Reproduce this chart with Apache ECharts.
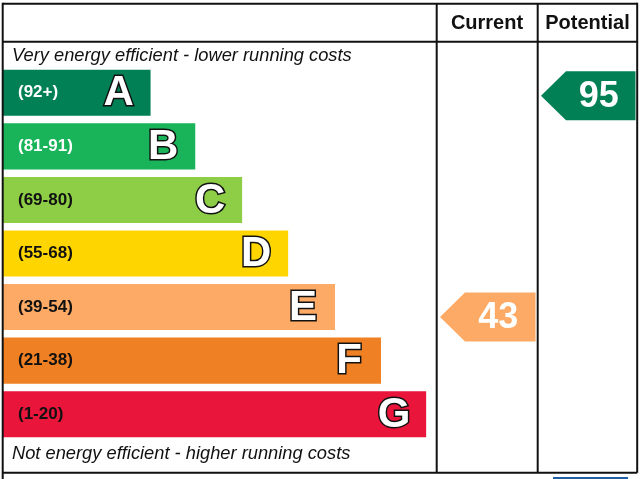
<!DOCTYPE html>
<html>
<head>
<meta charset="utf-8">
<script src="https://cdn.jsdelivr.net/npm/echarts@6/dist/echarts.min.js"></script>
<style>
  html, body { margin: 0; padding: 0; background: #fff; }
  #chart { width: 640px; height: 479px; }
</style>
</head>
<body>
<div id="chart"></div>
<script>
// rating bands, top (best) to bottom (worst)
const ratings = ['A', 'B', 'C', 'D', 'E', 'F', 'G'];
const rangeLabels = ['(92+)', '(81-91)', '(69-80)', '(55-68)', '(39-54)', '(21-38)', '(1-20)'];
const bandLow = [92, 81, 69, 55, 39, 21, 1];
const bandHigh = [100, 91, 80, 68, 54, 38, 20];
// bar length as percent of the rating column
const barLength = [34, 44.3, 55.1, 65.7, 76.5, 87.1, 97.5];

const currentScore = 43;
const potentialScore = 95;

const bandColors = ['#008054', '#19b459', '#8dce46', '#ffd500', '#fcaa65', '#ef8023', '#e9153b'];
const rangeTextColors = ['#fff', '#fff', '#111', '#111', '#111', '#111', '#111'];

const FONT = '"Liberation Sans", Arial, sans-serif';

//分数对应的等级行
let rowOf = score => {
  for (let i = 0; i < ratings.length; i++) {
    if (score >= bandLow[i]) return i;
  }
  return ratings.length - 1;
};

let chart = echarts.init(document.getElementById('chart'), null, { renderer: 'canvas' });

let catAxis = gridIndex => ({
  type: 'category',
  gridIndex: gridIndex,
  data: ratings,
  inverse: true,
  show: false
});
let valAxis = (gridIndex, max) => ({
  type: 'value',
  gridIndex: gridIndex,
  min: 0,
  max: max,
  show: false
});

let renderBand = (params, api) => {
  let idx = api.value(1);
  let start = api.coord([0, idx]);
  let end = api.coord([api.value(0), idx]);
  let h = api.size([0, 1])[1] * 0.86;
  return {
    type: 'group',
    children: [
      {
        type: 'rect',
        shape: { x: start[0], y: start[1] - h / 2, width: end[0] - start[0], height: h },
        style: { fill: bandColors[idx] }
      },
      {
        type: 'text',
        x: start[0] + 15,
        y: start[1],
        style: {
          text: rangeLabels[idx],
          fill: rangeTextColors[idx],
          font: 'bold 17px ' + FONT,
          verticalAlign: 'middle',
          align: 'left'
        }
      },
      {
        type: 'text',
        x: end[0] - 32,
        y: start[1] + 1,
        style: {
          text: ratings[idx],
          fill: '#fff',
          stroke: '#111',
          lineWidth: 3,
          strokeFirst: true,
          font: 'bold 42px ' + FONT,
          verticalAlign: 'middle',
          align: 'center'
        }
      }
    ]
  };
};

let renderArrow = (params, api) => {
  let score = api.value(0);
  let idx = api.value(1);
  let band = api.size([0, 1])[1];
  let frac = (bandHigh[idx] - score) / (bandHigh[idx] - bandLow[idx] + 1);
  let cy = api.coord([0, idx])[1] + (frac - 0.5) * band;
  let cs = params.coordSys;
  let tip = cs.x + 3;
  let right = cs.x + cs.width - 2.5;
  let hh = 24.5;
  let neck = tip + 25;
  return {
    type: 'group',
    children: [
      {
        type: 'polygon',
        shape: { points: [[tip, cy], [neck, cy - hh], [right, cy - hh], [right, cy + hh], [neck, cy + hh]] },
        style: { fill: bandColors[idx] }
      },
      {
        type: 'text',
        x: (neck + right) / 2 - 2,
        y: cy + 1,
        style: {
          text: String(score),
          fill: '#fff',
          font: 'bold 36px ' + FONT,
          verticalAlign: 'middle',
          align: 'center'
        }
      }
    ]
  };
};

let line = (x1, y1, x2, y2) => ({
  type: 'line',
  shape: { x1: x1, y1: y1, x2: x2, y2: y2 },
  style: { stroke: '#111', lineWidth: 2 },
  z: 100
});
let label = (text, x, y, font, align) => ({
  type: 'text',
  x: x,
  y: y,
  style: { text: text, font: font, fill: '#111', verticalAlign: 'middle', align: align || 'left' },
  z: 100
});

let option = {
  animation: false,
  backgroundColor: '#fff',
  grid: [
    { left: 3, top: 66, width: 434, height: 375 },
    { left: 437, top: 66, width: 101, height: 375 },
    { left: 538, top: 66, width: 100, height: 375 }
  ],
  xAxis: [valAxis(0, 100), valAxis(1, 1), valAxis(2, 1)],
  yAxis: [catAxis(0), catAxis(1), catAxis(2)],
  series: [
    {
      type: 'custom',
      xAxisIndex: 0,
      yAxisIndex: 0,
      renderItem: renderBand,
      data: barLength.map((v, i) => [v, i])
    },
    {
      type: 'custom',
      xAxisIndex: 1,
      yAxisIndex: 1,
      renderItem: renderArrow,
      data: [[currentScore, rowOf(currentScore)]]
    },
    {
      type: 'custom',
      xAxisIndex: 2,
      yAxisIndex: 2,
      renderItem: renderArrow,
      data: [[potentialScore, rowOf(potentialScore)]]
    }
  ],
  graphic: [
    line(2.7, 3.7, 637.2, 3.7),
    line(2.7, 41.7, 637.2, 41.7),
    line(2.7, 472.7, 637.2, 472.7),
    line(2.7, 2.7, 2.7, 479),
    line(436.7, 3.7, 436.7, 472.7),
    line(537.7, 3.7, 537.7, 472.7),
    line(637.2, 2.7, 637.2, 472.7),
    label('Current', 487, 23, 'bold 20px ' + FONT, 'center'),
    label('Potential', 587.5, 23, 'bold 20px ' + FONT, 'center'),
    label('Very energy efficient - lower running costs', 12, 56, 'italic 18.3px ' + FONT),
    label('Not energy efficient - higher running costs', 12, 454, 'italic 18.3px ' + FONT),
    {
      type: 'rect',
      shape: { x: 553, y: 477, width: 75, height: 3 },
      style: { fill: '#1f5fa8' },
      z: 100
    }
  ]
};

chart.setOption(option);
</script>
</body>
</html>
